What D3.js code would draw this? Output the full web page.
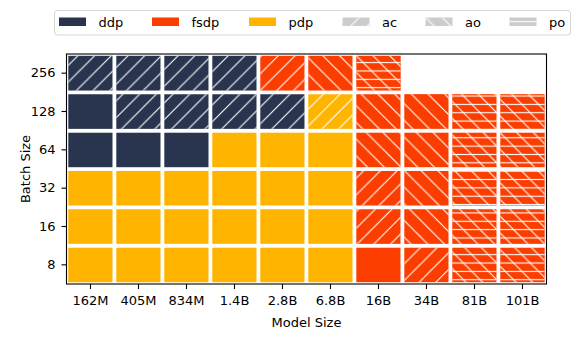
<!DOCTYPE html>
<html>
<head>
<meta charset="utf-8">
<script src="https://cdn.jsdelivr.net/npm/d3@7"></script>
<style>
  body { margin: 0; background: #fff; }
  text { font-family: "DejaVu Sans", sans-serif; fill: #000; }
</style>
</head>
<body>
<svg width="580" height="338"></svg>
<script>
// chart data
const modelSizes = ['162M', '405M', '834M', '1.4B', '2.8B', '6.8B', '16B', '34B', '81B', '101B'];
const batchSizes = ['8', '16', '32', '64', '128', '256'];

// strategy per cell, one array per batch size (left to right = model size)
const bs8   = ['pdp', 'pdp', 'pdp', 'pdp', 'pdp', 'pdp', 'fsdp', 'fsdp+ac', 'fsdp+ao+po', 'fsdp+ao+po'];
const bs16  = ['pdp', 'pdp', 'pdp', 'pdp', 'pdp', 'pdp', 'fsdp+ac', 'fsdp+ao', 'fsdp+ao+po', 'fsdp+ao+po'];
const bs32  = ['pdp', 'pdp', 'pdp', 'pdp', 'pdp', 'pdp', 'fsdp+ac', 'fsdp+ao', 'fsdp+ao+po', 'fsdp+ao+po'];
const bs64  = ['ddp', 'ddp', 'ddp', 'pdp', 'pdp', 'pdp', 'fsdp+ao', 'fsdp+ao', 'fsdp+ao+po', 'fsdp+ao+po'];
const bs128 = ['ddp', 'ddp+ac', 'ddp+ac', 'ddp+ac', 'ddp+ac', 'pdp+ac', 'fsdp+ao', 'fsdp+ao', 'fsdp+ao+po', 'fsdp+ao+po'];
const bs256 = ['ddp+ac', 'ddp+ac', 'ddp+ac', 'ddp+ac', 'fsdp+ac', 'fsdp+ao', 'fsdp+ao+po', null, null, null];
const rows = [bs8, bs16, bs32, bs64, bs128, bs256];

const parallelisms = ['ddp', 'fsdp', 'pdp'];
const parColors = ['#29344f', '#fc3d00', '#ffb400'];
const techniques = ['ac', 'ao', 'po'];

const svg = d3.select('svg');
const W = 580, H = 338;
const margin = {left: 66.5, right: 33.5, top: 54, bottom: 54};
const fs = 13;

const x = d3.scaleBand().domain(modelSizes).range([margin.left, W - margin.right]);
const y = d3.scaleBand().domain(batchSizes).range([H - margin.bottom, margin.top]);
const color = d3.scaleOrdinal().domain(parallelisms).range(parColors);

// hatch patterns (white lines, like matplotlib hatches)
const defs = svg.append('defs');
const hs = 16.7;
const hw = 1.1;
const ac = defs.append('pattern').attr('id', 'h-ac').attr('patternUnits', 'userSpaceOnUse')
  .attr('width', hs).attr('height', hs);
ac.append('path').attr('d', `M0,${hs} L${hs},0 M${-hs/2},${hs/2} L${hs/2},${-hs/2} M${hs/2},${hs*1.5} L${hs*1.5},${hs/2}`)
  .attr('stroke', '#fff').attr('stroke-width', hw);
const ao = defs.append('pattern').attr('id', 'h-ao').attr('patternUnits', 'userSpaceOnUse')
  .attr('width', hs).attr('height', hs);
ao.append('path').attr('d', `M0,0 L${hs},${hs} M${-hs/2},${hs/2} L${hs/2},${hs*1.5} M${hs/2},${-hs/2} L${hs*1.5},${hs/2}`)
  .attr('stroke', '#fff').attr('stroke-width', hw);
const po = defs.append('pattern').attr('id', 'h-po').attr('patternUnits', 'userSpaceOnUse')
  .attr('width', hs).attr('height', hs / 2);
po.append('path').attr('d', `M0,${hs/4} L${hs},${hs/4}`)
  .attr('stroke', '#fff').attr('stroke-width', hw);

// cells
const cells = [];
rows.forEach((row, i) => {
  row.forEach((s, j) => {
    if (!s) return;
    const parts = s.split('+');
    cells.push({model: modelSizes[j], batch: batchSizes[i], par: parts[0], tech: parts.slice(1)});
  });
});

const sw = 3.6;
const g = svg.append('g');
g.selectAll('.cell')
  .data(cells)
  .enter()
  .append('rect')
  .classed('cell', true)
  .attr('x', d => x(d.model))
  .attr('y', d => y(d.batch))
  .attr('width', x.bandwidth())
  .attr('height', y.bandwidth())
  .attr('fill', d => color(d.par))
  .attr('stroke', '#fff')
  .attr('stroke-width', sw);

cells.forEach(d => {
  d.tech.forEach(t => {
    g.append('rect')
      .attr('x', x(d.model) + sw / 2)
      .attr('y', y(d.batch) + sw / 2)
      .attr('width', x.bandwidth() - sw)
      .attr('height', y.bandwidth() - sw)
      .attr('fill', `url(#h-${t})`);
  });
});

// axes
const xAxis = svg.append('g')
  .attr('transform', `translate(0,${H - margin.bottom})`)
  .call(d3.axisBottom(x).tickSize(5).tickPadding(6.5));
const yAxis = svg.append('g')
  .attr('transform', `translate(${margin.left},0)`)
  .call(d3.axisLeft(y).tickSize(5).tickPadding(6));
[xAxis, yAxis].forEach(a => {
  a.select('.domain').remove();
  a.selectAll('text').attr('font-size', fs).attr('font-family', 'DejaVu Sans');
  a.selectAll('line').attr('stroke', '#000').attr('stroke-width', 1.1);
});
svg.append('rect')
  .attr('x', margin.left).attr('y', margin.top)
  .attr('width', W - margin.right - margin.left).attr('height', H - margin.bottom - margin.top)
  .attr('fill', 'none').attr('stroke', '#000').attr('stroke-width', 1.1);

svg.append('text').attr('x', (margin.left + W - margin.right) / 2).attr('y', 327)
  .attr('text-anchor', 'middle').attr('font-size', fs).text('Model Size');
svg.append('text').attr('transform', `translate(29.5,${(margin.top + H - margin.bottom) / 2}) rotate(-90)`)
  .attr('text-anchor', 'middle').attr('font-size', fs).text('Batch Size');

// legend
const legendItems = parallelisms.map((p, i) => ({label: p, fill: parColors[i], hatch: null}))
  .concat(techniques.map(t => ({label: t, fill: '#cccccc', hatch: t})));
const legendX = [59, 152, 249, 342.5, 425.5, 509.5];
svg.append('rect').attr('x', 54.5).attr('y', 10.5).attr('width', 516).attr('height', 24.5)
  .attr('rx', 3).attr('fill', '#fff').attr('stroke', '#d6d6d6');
const li = svg.selectAll('.leg')
  .data(legendItems)
  .enter()
  .append('g')
  .classed('leg', true)
  .attr('transform', (d, i) => `translate(${legendX[i]},17.5)`);
li.append('rect').attr('width', 27).attr('height', 8.5).attr('fill', d => d.fill);
li.filter(d => d.hatch).append('rect').attr('width', 27).attr('height', 8.5)
  .attr('fill', d => `url(#h-${d.hatch})`);
li.append('text').attr('x', 39.5).attr('y', 9).attr('font-size', fs).text(d => d.label);
</script>
</body>
</html>
